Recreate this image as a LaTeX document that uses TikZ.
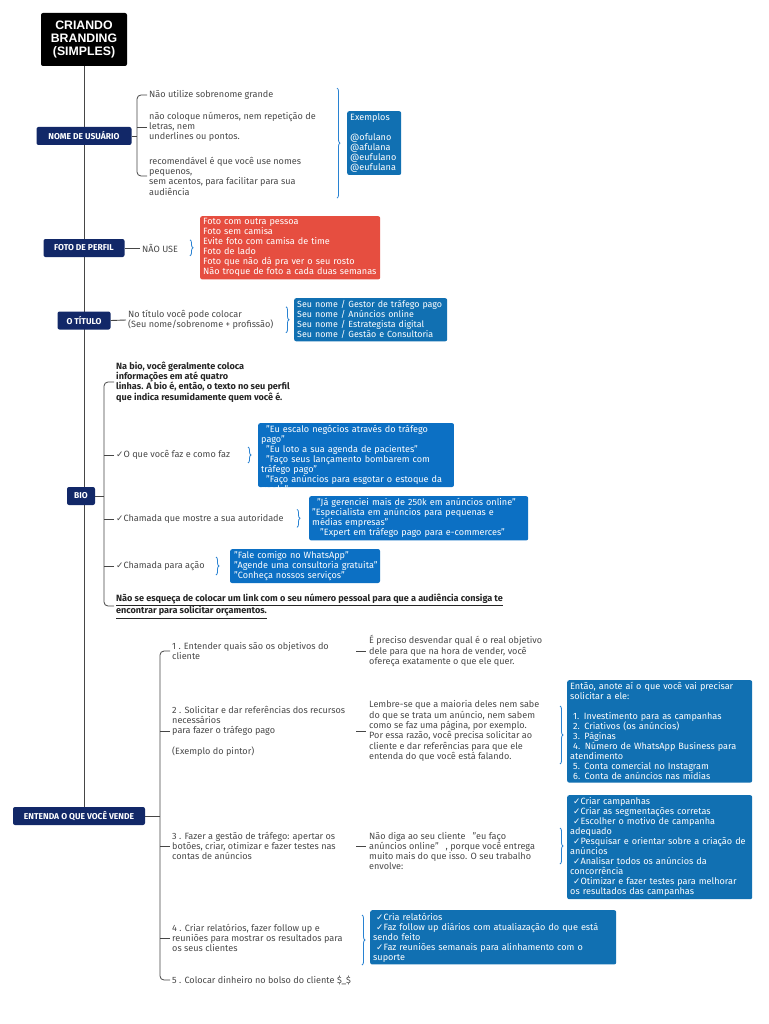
\documentclass[tikz,border=0pt]{standalone}
\usepackage{fontspec}
\setmainfont{Fira Sans}
\newfontfamily\titlefont{Liberation Sans}
\newfontfamily\symf{DejaVu Sans}
\usetikzlibrary{positioning,decorations.pathreplacing}
\definecolor{navy}{RGB}{18,40,104}
\definecolor{boxblue}{RGB}{17,112,178}
\definecolor{bioblue}{RGB}{12,112,196}
\definecolor{redbox}{RGB}{230,78,64}
\definecolor{txtgray}{RGB}{72,72,72}
\definecolor{linegray}{RGB}{70,70,70}
\definecolor{braceblue}{RGB}{40,130,210}
\newcommand{\chk}{{\symf\fontsize{8.8}{8}\selectfont\bfseries ✓}}
\tikzset{
  topic/.style={fill=navy, text=white, font=\fontsize{8.5}{9}\selectfont\bfseries, rounded corners=2pt, minimum height=18pt, inner sep=0pt},
  item/.style={anchor=west, align=left, text=txtgray, font=\fontsize{9.1}{10.3}\selectfont, inner sep=0pt},
  bluebox/.style={anchor=north west, fill=boxblue, text=white, rounded corners=2pt, align=left, inner xsep=3pt, inner ysep=2.5pt, font=\fontsize{9.1}{10}\selectfont},
  conn/.style={linegray, line width=0.9pt},
  bracket/.style={linegray, line width=0.8pt, rounded corners=4pt},
  brc/.style={braceblue, line width=0.8pt, decorate, decoration={brace, amplitude=3pt}}
}
\begin{document}
\begin{tikzpicture}[x=1pt, y=-1pt]
  \useasboundingbox[fill=white] (0,0) rectangle (768,1024);
  \node[fill=black, text=white, rounded corners=2pt, minimum width=86pt, minimum height=53pt, align=center, inner sep=0pt, font=\titlefont\fontsize{12.3}{13.2}\selectfont\bfseries] (root) at (84,39.5) {CRIANDO\\BRANDING\\(SIMPLES)};
  \node[topic, minimum width=132pt] (ent) at (79,816) {ENTENDA O QUE VOCÊ VENDE};
  \draw[conn] (root.south) -- (root.south |- ent.north);
  % main topics
  \node[topic, minimum width=95pt] (nome) at (84,136) {NOME DE USUÁRIO};
  \node[topic, minimum width=81pt] (foto) at (84,248) {FOTO DE PERFIL};
  \node[topic, minimum width=53pt] (titulo) at (84,320.5) {O TÍTULO};
  \node[topic, minimum width=28pt] (bio) at (81,496) {BIO};

  % nome de usuario
  \node[item] (n1) at (149,95) {Não utilize sobrenome grande};
  \node[item] (n2) at (149,127) {não coloque números, nem repetição de\\letras, nem\\underlines ou pontos.};
  \node[item] (n3) at (149,176) {recomendável é que você use nomes\\pequenos,\\sem acentos, para facilitar para sua\\audiência};
  \coordinate (nbx) at ([xshift=-12pt]n1.west);
  \draw[bracket] ([xshift=-2pt]n1.west) -- ++(-10,0) |- ([xshift=-2pt]n3.west);
  \draw[bracket] ([xshift=-2pt]n2.west) -- (n2.west -| nbx);
  \draw[conn] (nome.east) -- (nome.east -| nbx);
  \node[bluebox, text width=48pt] (ex) at (347,111) {Exemplos\\[10pt]@ofulano\\@afulana\\@eufulano\\@eufulana};
  \draw[brc] ([shift={(-10,-55)}]ex.west) -- ([shift={(-10,55)}]ex.west);

  % foto de perfil
  \node[item, inner xsep=2pt] (nao) at (140,248) {NÃO USE};
  \draw[conn] (foto.east) -- (nao.west);
  \node[bluebox, fill=redbox, text width=174pt] (red) at (200,216) {Foto com outra pessoa\\Foto sem camisa\\Evite foto com camisa de time\\Foto de lado\\Foto que não dá pra ver o seu rosto\\\mbox{Não troque de foto a cada duas semanas}};
  \draw[brc] ([shift={(-10,-8)}]red.west) -- ([shift={(-10,8)}]red.west);

  % titulo
  \node[item] (tt) at (128,320) {No título você pode colocar\\(Seu nome/sobrenome + profissão)};
  \draw[conn] (titulo.east) -- ([xshift=-2pt]tt.west);
  \node[bluebox, text width=147pt, font=\fontsize{8.9}{10}\selectfont] (tbox) at (294,298) {\mbox{Seu nome / Gestor de tráfego pago}\\Seu nome / Anúncios online\\Seu nome / Estrategista digital\\Seu nome / Gestão e Consultoria};
  \draw[brc] ([shift={(-8,-13)}]tbox.west) -- ([shift={(-8,13)}]tbox.west);

  % bio
  \node[item, text=black!85, font=\fontsize{9.1}{10.2}\selectfont\bfseries] (b0) at (116,382) {Na bio, você geralmente coloca\\informações em até quatro\\linhas. A bio é, então, o texto no seu perfil\\que indica resumidamente quem você é.};
  \node[item] (b1) at (116,455) {\chk O que você faz e como faz};
  \node[item] (b2) at (116,519) {\chk Chamada que mostre a sua autoridade};
  \node[item] (b3) at (116,566) {\chk Chamada para ação};
  \node[item, text=black!85, font=\fontsize{9.1}{10.2}\selectfont\bfseries] (b4) at (116,606) {\underline{Não se esqueça de colocar um link com o seu número pessoal para que a audiência consiga te}\\\underline{encontrar para solicitar orçamentos.}};
  \coordinate (bbx) at ([xshift=-12pt]b0.west);
  \draw[bracket] ([xshift=-2pt]b0.west) -- ++(-10,0) |- ([xshift=-2pt]b4.west);
  \foreach \b in {b1,b2,b3}
    \draw[bracket] ([xshift=-2pt]\b.west) -- (\b.west -| bbx);
  \draw[conn] (bio.east) -- (bio.east -| bbx);
  \begin{scope}
    \clip[rounded corners=2pt] (258,423) rectangle (454,487);
    \node[bluebox, fill=bioblue, text width=190pt] (bb1) at (258,423) {\hspace*{5pt}"Eu escalo negócios através do tráfego\\pago"\\\hspace*{5pt}"Eu loto a sua agenda de pacientes"\\\hspace*{5pt}"Faço seus lançamento bombarem com\\tráfego pago"\\\hspace*{5pt}"Faço anúncios para esgotar o estoque da\\moda"};
  \end{scope}
  \draw[brc] (248,447) -- (248,463);
  \node[bluebox, fill=bioblue, text width=213pt] (bb2) at (309,496) {\mbox{\hspace*{5pt}"Já gerenciei mais de 250k em anúncios online"}\\"Especialista em anúncios para pequenas e\\médias empresas"\\\hspace*{8pt}"Expert em tráfego pago para e-commerces"};
  \draw[brc] ([shift={(-12,-9)}]bb2.west) -- ([shift={(-12,9)}]bb2.west);
  \begin{scope}
    \clip[rounded corners=2pt] (230,549) rectangle (380,583);
    \node[bluebox, fill=bioblue, text width=190pt, inner xsep=4pt] (bb3) at (230,549) {"Fale comigo no WhatsApp"\\"Agende uma consultoria gratuita"\\"Conheça nossos serviços"};
  \end{scope}
  \draw[brc] (216,557) -- (216,575);

  % entenda o que voce vende
  \node[item] (e1) at (172,651) {1 . Entender quais são os objetivos do\\cliente};
  \node[item] (e2) at (172,731) {2 . Solicitar e dar referências dos recursos\\necessários\\para fazer o tráfego pago\\[10.3pt](Exemplo do pintor)};
  \node[item] (e3) at (172,846) {3 . Fazer a gestão de tráfego: apertar os\\botões, criar, otimizar e fazer testes nas\\contas de anúncios};
  \node[item] (e4) at (172,938) {4 . Criar relatórios, fazer follow up e\\reuniões para mostrar os resultados para\\os seus clientes};
  \node[item] (e5) at (172,980) {5 . Colocar dinheiro no bolso do cliente \$\_\$};
  \coordinate (ebx) at ([xshift=-12pt]e1.west);
  \draw[bracket] ([xshift=-2pt]e1.west) -- ++(-10,0) |- ([xshift=-2pt]e5.west);
  \foreach \e in {e2,e3,e4}
    \draw[bracket] ([xshift=-2pt]\e.west) -- (\e.west -| ebx);
  \draw[conn] (ent.east) -- (ent.east -| ebx);

  \node[item] (d1) at (369,651) {É preciso desvendar qual é o real objetivo\\dele para que na hora de vender, você\\ofereça exatamente o que ele quer.};
  \node[item] (d2) at (369,731) {Lembre-se que a maioria deles nem sabe\\do que se trata um anúncio, nem sabem\\como se faz uma página, por exemplo.\\Por essa razão, você precisa solicitar ao\\cliente e dar referências para que ele\\entenda do que você está falando.};
  \node[item] (d3) at (369,851) {Não diga ao seu cliente \enspace"eu faço\\anúncios online" \enspace, porque você entrega\\muito mais do que isso. O seu trabalho\\envolve:};
  \foreach \e/\d in {e1/d1,e2/d2,e3/d3}
    \draw[conn] (\e.west -| \d.west) ++(-13,0) -- ++(10,0);

  \node[bluebox, text width=179pt] (sol) at (567,680) {Então, anote aí o que você vai precisar\\solicitar a ele:\\[10pt]\hspace*{3pt}1. Investimento para as campanhas\\\hspace*{3pt}2. Criativos (os anúncios)\\\hspace*{3pt}3. Páginas\\\hspace*{3pt}4. Número de WhatsApp Business para\\atendimento\\\hspace*{3pt}5. Conta comercial no Instagram\\\hspace*{3pt}6. Conta de anúncios nas mídias};
  \draw[brc] (560,706) -- (560,764);
  \node[bluebox, text width=179pt] (gest) at (567,795) {\hspace*{3pt}\chk Criar campanhas\\\hspace*{3pt}\chk Criar as segmentações corretas\\\hspace*{3pt}\chk Escolher o motivo de campanha\\adequado\\\mbox{\hspace*{3pt}\chk Pesquisar e orientar sobre a criação de}\\anúncios\\\hspace*{3pt}\chk Analisar todos os anúncios da\\concorrência\\\hspace*{3pt}\chk Otimizar e fazer testes para melhorar\\os resultados das campanhas};
  \draw[brc] (560,828) -- (560,864);
  \node[bluebox, text width=240pt] (rel) at (370,910) {\hspace*{3pt}\chk Cria relatórios\\\hspace*{3pt}\chk Faz follow up diários com atualiazação do que está\\sendo feito\\\hspace*{3pt}\chk Faz reuniões semanais para alinhamento com o\\suporte};
  \draw[brc] (362,915) -- (362,965);
\end{tikzpicture}
\end{document}
